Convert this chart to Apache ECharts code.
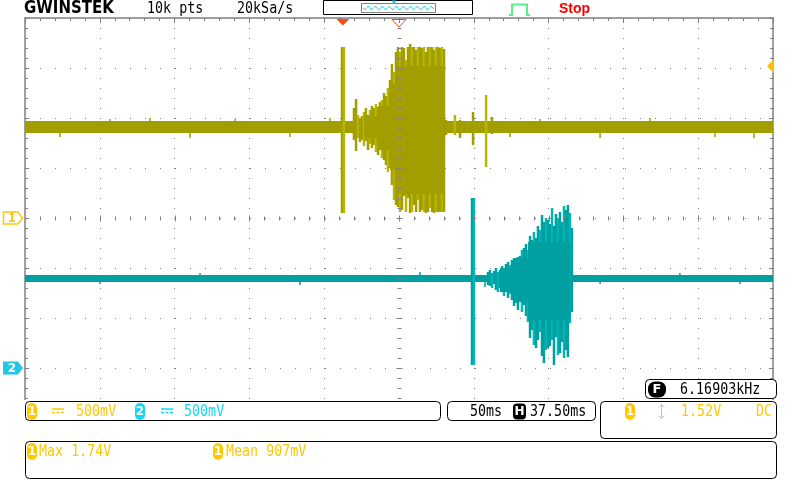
<!DOCTYPE html>
<html><head><meta charset="utf-8">
<script src="https://cdn.jsdelivr.net/npm/echarts/dist/echarts.min.js"></script>
<style>html,body{margin:0;padding:0;background:#fff}#c{width:800px;height:480px}</style>
</head><body><div id="c"></div>
<script>
// ---- time axis: ms across the 10-division screen (50 ms/div); volts: 500 mV/div ----
var timeMin = 0, timeMax = 500, timeStep = 50;
var ch1Min = -2, ch1Max = 2, ch2Min = -0.5, ch2Max = 3.5, voltStep = 0.5;
var trigTime = 212.5, centerTime = 250, trigLevel = 1.52;

// CH1 continuous noise band [t0, t1, lo, hi]
var ch1Band = [[0, 500, 0.85, 0.97]];
// CH1 solid core of burst [t0, t1, lo, hi]
var ch1Core = [[226.6, 236.0, 0.80, 1.02], [236.0, 244.0, 0.68, 1.12], [244.0, 248.0, 0.48, 1.34], [248.0, 280.0, 0.24, 1.52]];
// CH1 envelope columns
var ch1T = [211.9, 213.2, 219.9, 221.3, 222.6, 223.9, 225.3, 226.6, 227.9, 229.3, 230.6, 231.9, 233.3, 234.6, 236.0, 237.3, 238.6, 240.0, 241.3, 242.6, 244.0, 245.3, 246.7, 248.0, 249.3, 250.7, 252.0, 253.3, 254.7, 256.0, 257.4, 258.7, 260.0, 261.4, 262.7, 264.0, 265.4, 266.7, 268.0, 269.4, 270.7, 272.1, 273.4, 274.7, 276.1, 277.4, 278.7, 280.1, 281.4, 287.4, 290.8, 299.5, 308.2, 312.2];
var ch1Hi = [1.71, 1.71, 1.10, 1.19, 1.03, 1.00, 1.02, 1.06, 1.10, 1.03, 1.08, 1.12, 1.10, 1.14, 1.11, 1.16, 1.18, 1.25, 1.22, 1.30, 1.38, 1.54, 1.46, 1.66, 1.71, 1.66, 1.71, 1.70, 1.58, 1.71, 1.74, 1.71, 1.71, 1.68, 1.71, 1.71, 1.70, 1.71, 1.66, 1.71, 1.71, 1.71, 1.68, 1.71, 1.71, 1.70, 1.71, 1.69, 0.98, 1.03, 0.98, 1.06, 1.23, 1.01];
var ch1Lo = [0.05, 0.05, 0.78, 0.67, 0.80, 0.76, 0.78, 0.72, 0.77, 0.68, 0.74, 0.70, 0.73, 0.66, 0.63, 0.68, 0.60, 0.58, 0.53, 0.46, 0.50, 0.33, 0.18, 0.13, 0.11, 0.06, 0.08, 0.22, 0.06, 0.20, 0.05, 0.06, 0.13, 0.06, 0.18, 0.06, 0.08, 0.06, 0.05, 0.06, 0.10, 0.06, 0.05, 0.06, 0.06, 0.06, 0.06, 0.06, 0.83, 0.83, 0.80, 0.73, 0.51, 0.84];
// CH1 small noise spikes on the baseline
var ch1NoiseT = [23.4, 56.8, 83.6, 110.3, 140.4, 177.1, 203.9, 324.2, 344.3, 384.4, 417.8, 461.2, 487.3];
var ch1NoiseLo = [0.81, 0.85, 0.85, 0.80, 0.85, 0.81, 0.85, 0.81, 0.85, 0.80, 0.85, 0.81, 0.80];
var ch1NoiseHi = [0.97, 0.99, 1.00, 0.97, 0.99, 0.97, 1.00, 0.97, 0.99, 0.97, 1.00, 0.97, 0.97];

// CH2
var ch2Band = [[0, 500, 0.86, 0.93]];
var ch2Core = [[317.5, 326.9, 0.76, 1.00], [326.9, 336.2, 0.66, 1.10], [336.2, 364.5, 0.48, 1.26]];
var ch2T = [298.8, 300.1, 309.5, 310.8, 312.2, 313.5, 314.8, 316.2, 317.5, 318.9, 320.2, 321.5, 322.9, 324.2, 325.5, 326.9, 328.2, 329.5, 330.9, 332.2, 333.6, 334.9, 336.2, 337.6, 338.9, 340.2, 341.6, 342.9, 344.3, 345.6, 346.9, 348.3, 349.6, 350.9, 352.3, 353.6, 354.9, 356.3, 357.6, 358.9, 360.3, 361.6, 362.9, 364.3, 365.6];
var ch2Hi = [1.70, 1.70, 0.96, 0.98, 0.95, 0.97, 1.00, 0.96, 0.98, 1.02, 1.00, 1.04, 1.06, 1.03, 1.08, 1.10, 1.06, 1.11, 1.12, 1.18, 1.20, 1.24, 1.18, 1.32, 1.28, 1.36, 1.30, 1.42, 1.38, 1.53, 1.46, 1.50, 1.48, 1.44, 1.60, 1.42, 1.54, 1.50, 1.56, 1.46, 1.62, 1.58, 1.63, 1.55, 1.40];
var ch2Lo = [0.03, 0.03, 0.83, 0.82, 0.80, 0.84, 0.78, 0.76, 0.80, 0.76, 0.72, 0.78, 0.70, 0.74, 0.68, 0.62, 0.65, 0.58, 0.68, 0.56, 0.63, 0.52, 0.46, 0.30, 0.38, 0.23, 0.20, 0.28, 0.36, 0.12, 0.05, 0.18, 0.20, 0.22, 0.28, 0.03, 0.31, 0.13, 0.15, 0.26, 0.10, 0.18, 0.11, 0.45, 0.56];
var ch2NoiseT = [50.1, 117.0, 183.8, 264.0, 307.5, 384.4, 437.8, 477.9];
var ch2NoiseLo = [0.84, 0.86, 0.83, 0.86, 0.81, 0.84, 0.86, 0.84];
var ch2NoiseHi = [0.93, 0.95, 0.93, 0.96, 0.93, 0.93, 0.95, 0.93];

// readouts
var headerTexts = ['10k pts', '20kSa/s'];
var scaleTexts = ['500mV', '500mV'];
var timebaseText = '50ms', hposText = '37.50ms';
var trigText = '1.52V', couplingText = 'DC', freqText = '6.16903kHz';
var measLabels = ['Max 1.74V', 'Mean 907mV'];

var C1 = '#a29e00', C1L = '#bab600', C2 = '#00a0a0', C2L = '#00b8b8';
var YEL = '#ffc800', CYA = '#12d8f6', GRAY = '#808080';
var MONO = '"DejaVu Sans Mono", monospace';

function zip3(T, Lo, Hi) { return T.map(function (t, i) { return [t, Lo[i], Hi[i]]; }); }

function colSeries(name, data, yi, c1, c2, w) {
  return {
    name: name, type: 'custom', xAxisIndex: 0, yAxisIndex: yi, data: data, clip: true,
    silent: true, animation: false, encode: { x: 0, y: [1, 2] },
    renderItem: function (p, api) {
      var a = api.coord([api.value(0), api.value(2)]);
      var b = api.coord([api.value(0), api.value(1)]);
      return { type: 'rect', shape: { x: a[0] - w / 2, y: a[1], width: w, height: Math.max(1, b[1] - a[1]) },
        style: { fill: (p.dataIndex % 3 === 1) ? c2 : c1 } };
    }
  };
}
function bandSeries(name, data, yi, color) {
  return {
    name: name, type: 'custom', xAxisIndex: 0, yAxisIndex: yi, data: data, clip: true,
    silent: true, animation: false, encode: { x: [0, 1], y: [2, 3] },
    renderItem: function (p, api) {
      var a = api.coord([api.value(0), api.value(3)]);
      var b = api.coord([api.value(1), api.value(2)]);
      return { type: 'rect', shape: { x: a[0], y: a[1], width: b[0] - a[0], height: b[1] - a[1] }, style: { fill: color } };
    }
  };
}

var axisLineStyle = { color: GRAY, width: 1.5 };
var option = {
  backgroundColor: '#fff',
  animation: false,
  grid: { left: 25, right: 27, top: 18, bottom: 62, containLabel: false, outerBoundsMode: 'none' },
  xAxis: [{
    type: 'value', position: 'top', min: timeMin, max: timeMax, interval: timeStep,
    axisLine: { show: true, onZero: false, lineStyle: axisLineStyle },
    axisTick: { show: true, inside: true, length: 5, lineStyle: { color: GRAY } },
    minorTick: { show: true, splitNumber: 5, length: 3, lineStyle: { color: GRAY } },
    axisLabel: { show: false },
    splitLine: { show: true, lineStyle: { color: GRAY, width: 1, type: [1, 9] } }
  }],
  yAxis: [{
    type: 'value', position: 'left', min: ch1Min, max: ch1Max, interval: voltStep,
    axisLine: { show: true, onZero: false, lineStyle: axisLineStyle },
    axisTick: { show: true, inside: true, length: 4, lineStyle: { color: GRAY } },
    minorTick: { show: true, splitNumber: 5, length: 3, lineStyle: { color: GRAY } },
    axisLabel: { show: false },
    splitLine: { show: true, lineStyle: { color: GRAY, width: 1, type: [1, 14] } }
  }, {
    type: 'value', position: 'right', min: ch2Min, max: ch2Max, interval: voltStep,
    axisLine: { show: true, onZero: false, lineStyle: axisLineStyle },
    axisTick: { show: true, inside: true, length: 4, lineStyle: { color: GRAY } },
    minorTick: { show: true, splitNumber: 5, length: 3, lineStyle: { color: GRAY } },
    axisLabel: { show: false },
    splitLine: { show: false }
  }],
  series: [
    bandSeries('ch1band', ch1Band, 0, C1),
    colSeries('ch1noise', zip3(ch1NoiseT, ch1NoiseLo, ch1NoiseHi), 0, C1, C1, 1.5),
    colSeries('ch1', zip3(ch1T, ch1Lo, ch1Hi), 0, C1, C1L, 2.5),
    bandSeries('ch1core', ch1Core, 0, C1),
    bandSeries('ch2band', ch2Band, 1, C2),
    colSeries('ch2noise', zip3(ch2NoiseT, ch2NoiseLo, ch2NoiseHi), 1, C2, C2, 1.5),
    colSeries('ch2', zip3(ch2T, ch2Lo, ch2Hi), 1, C2, C2L, 2.5),
    bandSeries('ch2core', ch2Core, 1, C2)
  ]
};
var chart = echarts.init(document.getElementById('c'));
chart.setOption(option);

function px(t, v, yi) { return chart.convertToPixel({ xAxisIndex: 0, yAxisIndex: yi || 0 }, [t, v]); }
var g = [];
function T(x, y, s, fill, o) {
  o = o || {};
  return { type: 'text', x: x, y: y, z: o.z || 100, scaleX: o.sx == null ? 0.89 : o.sx, scaleY: o.sy || 1.08,
    style: { text: s, fill: fill, fontSize: o.size || 15, fontFamily: o.family || MONO, fontWeight: o.weight || 'normal',
      align: o.align || 'left', verticalAlign: 'middle' } };
}
function R(x, y, w, h, r, fill, stroke, lw, z) {
  return { type: 'rect', z: z || 95, shape: { x: x, y: y, width: w, height: h, r: r },
    style: { fill: fill || 'none', stroke: stroke || null, lineWidth: lw || 1 } };
}
function L(x1, y1, x2, y2, stroke, lw, z, dash) {
  return { type: 'line', z: z || 100, shape: { x1: x1, y1: y1, x2: x2, y2: y2 },
    style: { stroke: stroke, lineWidth: lw || 1, lineDash: dash || null } };
}
function P(pts, fill, stroke, lw, z) {
  return { type: 'polygon', z: z || 100, shape: { points: pts }, style: { fill: fill || 'none', stroke: stroke || null, lineWidth: lw || 1 } };
}
function PL(pts, stroke, lw, z) {
  return { type: 'polyline', z: z || 100, shape: { points: pts }, style: { fill: 'none', stroke: stroke, lineWidth: lw || 1 } };
}
var SANS = '"DejaVu Sans", sans-serif';
function chIcon(x, y, color, num) {
  g.push(R(x, y, 10, 17, 5, color, null, 1, 99));
  g.push(T(x + 5, y + 9, num, '#fff', { align: 'center', size: 12, weight: 'bold', sx: 1, sy: 1, family: SANS }));
}
function dcSym(x, y, color) {
  g.push(L(x, y, x + 12, y, color, 1.5));
  g.push(L(x, y + 3.5, x + 12, y + 3.5, color, 1.5, 100, [3, 1.5]));
}

// graticule centre rulers
var tl = px(timeMin, ch1Max), br = px(timeMax, ch1Min), cc = px(centerTime, 0);
var cx = Math.round(cc[0]) + 0.5, cy = Math.round(cc[1]) + 0.5;
for (var k = 1; k < 40; k++) {
  var yy = Math.round(tl[1] + (br[1] - tl[1]) * k / 40) + 0.5, len = k % 5 === 0 ? 3 : 2;
  g.push(L(cx - len, yy, cx + len, yy, GRAY, 1, 10));
}
for (k = 1; k < 50; k++) {
  var xx = Math.round(tl[0] + (br[0] - tl[0]) * k / 50) + 0.5, ln = k % 5 === 0 ? 3 : 2;
  g.push(L(xx, cy - ln, xx, cy + ln, GRAY, 1, 10));
}

// cover the lower part of the screen (panels region)
g.push(R(0, 400, 800, 80, 0, '#fff', null, 1, 90));

// header
g.push(T(24, 8.5, 'GWINSTEK', '#000', { family: SANS, weight: 'bold', size: 15, sx: 1, sy: 1.18 }));
g.push(T(147, 9, headerTexts[0], '#000'));
g.push(T(237, 9, headerTexts[1], '#000'));
g.push(R(323.5, 0.5, 149, 14, 0, '#fff', '#000', 1, 96));
g.push(R(361.5, 3.5, 74, 9, 0, 'none', GRAY, 1, 97));
var wave = [];
for (var wx = 363; wx <= 434; wx += 1) wave.push([wx, 8 + 1.6 * Math.sin((wx - 363) / 7 * 2 * Math.PI)]);
g.push(PL(wave, '#22d0ea', 1, 98));
g.push(P([[391.5, 0.5], [396.5, 0.5], [394, 4.5]], '#22d0ea', null, 1, 99));
g.push(PL([[509, 15], [512, 15], [512, 4.5], [527, 4.5], [527, 15], [530, 15]], '#5cf08c', 2));
g.push(T(559, 8.5, 'Stop', '#ff0000', { family: '"Liberation Sans", sans-serif', weight: 'bold', size: 14, sx: 1, sy: 1.1 }));

// trigger markers
var tp = px(trigTime, ch1Max), cp = px(centerTime, ch1Max);
g.push(P([[tp[0] - 6.5, 19], [tp[0] + 6.5, 19], [tp[0], 25.5]], '#ff4a10', null, 1, 100));
g.push(P([[cp[0] - 7, 19.5], [cp[0] + 7, 19.5], [cp[0], 27]], 'none', '#ff4a10', 1, 100));
var tl1 = px(timeMax, trigLevel);
g.push(P([[tl1[0] + 1, tl1[1] - 7], [tl1[0] + 1, tl1[1] + 7], [tl1[0] - 6, tl1[1]]], '#ffc000', null, 1, 100));

// channel ground markers
var g1 = px(timeMin, 0, 0), g2 = px(timeMin, 0, 1);
g.push(P([[3.5, g1[1] - 6], [18, g1[1] - 6], [22.5, g1[1]], [18, g1[1] + 6], [3.5, g1[1] + 6]], '#fff', YEL, 1.5, 100));
g.push(T(12, g1[1] + 0.5, '1', YEL, { align: 'center', size: 12, weight: 'bold', sx: 1, sy: 1, family: SANS, z: 101 }));
g.push(P([[3, g2[1] - 6.5], [18, g2[1] - 6.5], [23, g2[1]], [18, g2[1] + 6.5], [3, g2[1] + 6.5]], '#1ec8e6', null, 1, 100));
g.push(T(12, g2[1] + 0.5, '2', '#fff', { align: 'center', size: 12, weight: 'bold', sx: 1, sy: 1, family: SANS, z: 101 }));

// panels
g.push(R(645.5, 379.5, 131, 19, 4, '#fff', '#000', 1, 95));
g.push(R(25.5, 401.5, 415, 19, 4, '#fff', '#000', 1, 95));
g.push(R(447.5, 401.5, 148, 19, 4, '#fff', '#000', 1, 95));
g.push(R(600.5, 401.5, 176, 37, 4, '#fff', '#000', 1, 95));
g.push(R(25.5, 441.5, 751, 37, 4, '#fff', '#000', 1, 95));

// F panel
g.push(R(648, 381.5, 18, 16, 7, '#000', null, 1, 99));
g.push(T(657, 390, 'F', '#fff', { align: 'center', size: 13, weight: 'bold', sx: 1, sy: 1, family: SANS }));
g.push(T(680, 390, freqText, '#000'));

// P1 vertical scales
chIcon(27, 403, YEL, '1');
dcSym(52, 409, YEL);
g.push(T(76, 411.5, scaleTexts[0], YEL));
chIcon(135, 403, CYA, '2');
dcSym(161, 409, CYA);
g.push(T(184, 411.5, scaleTexts[1], CYA));

// P2 timebase
g.push(T(470, 411.5, timebaseText, '#000'));
g.push(R(513, 403.5, 13, 16, 4, '#000', null, 1, 99));
g.push(T(519.5, 411.5, 'H', '#fff', { align: 'center', size: 12, weight: 'bold', sx: 1, sy: 1, family: SANS }));
g.push(T(530, 411.5, hposText, '#000'));

// P3 trigger
chIcon(625, 403, YEL, '1');
g.push(L(661.5, 404.5, 661.5, 418.5, YEL, 1));
g.push(PL([[658.5, 407.5], [661.5, 404.5], [664.5, 407.5]], YEL, 1));
g.push(PL([[658.5, 415.5], [661.5, 418.5], [664.5, 415.5]], YEL, 1));
g.push(T(681, 411.5, trigText, YEL));
g.push(T(756, 411.5, couplingText, YEL));

// measurements
chIcon(27, 443, YEL, '1');
g.push(T(39, 451.5, measLabels[0], YEL));
chIcon(213, 443, YEL, '1');
g.push(T(226, 451.5, measLabels[1], YEL));

chart.setOption({ graphic: { elements: g } });
</script></body></html>
